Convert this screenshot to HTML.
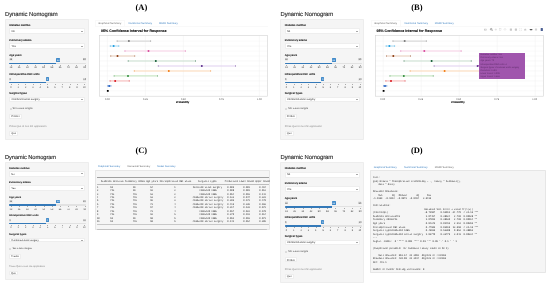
<!DOCTYPE html>
<html><head><meta charset="utf-8"><title>Dynamic Nomogram</title>
<style>
html,body{margin:0;padding:0;background:#fff;}
#root{position:relative;width:550px;height:288px;overflow:hidden;background:#fff;}
.p{position:absolute;width:275px;height:145px;}
.t{position:absolute;white-space:nowrap;text-rendering:geometricPrecision;}
.b{position:absolute;}
</style></head><body>
<div id="root">
<div class="p" style="left:0px;top:0px">
<div class="t" style="left:5.00px;top:13.23px;font-size:5.9px;line-height:5.9px;color:#333;font-weight:normal;font-family:'Liberation Sans', Arial, sans-serif;letter-spacing:-0.070px;-webkit-text-stroke:0.15px #333;">Dynamic Nomogram</div>
<div class="b" style="left:4.90px;top:19.20px;width:83.90px;height:121.10px;background:#f5f5f5;border:0.3px solid #ededed;border-radius:0.8px;box-sizing:border-box;"></div>
<div class="t" style="left:9.20px;top:25.03px;font-size:2.6px;line-height:2.6px;color:#1a1a1a;font-weight:bold;font-family:'Liberation Sans', Arial, sans-serif;-webkit-text-stroke:0.06px #1a1a1a;">Diabetes mellitus</div>
<div class="b" style="left:9.20px;top:28.40px;width:75.70px;height:6.00px;background:#fff;border:0.3px solid #eeeeee;border-radius:0.7px;box-sizing:border-box;"></div>
<div class="t" style="left:11.50px;top:31.14px;font-size:2.6px;line-height:2.6px;color:#222;font-weight:normal;font-family:'Liberation Sans', Arial, sans-serif;">No</div>
<div class="b" style="left:80.5px;top:30.95px;width:0;height:0;border-left:0.7px solid transparent;border-right:0.7px solid transparent;border-top:0.9px solid #555;"></div>
<div class="t" style="left:9.20px;top:39.73px;font-size:2.6px;line-height:2.6px;color:#1a1a1a;font-weight:bold;font-family:'Liberation Sans', Arial, sans-serif;-webkit-text-stroke:0.06px #1a1a1a;">Pulmonary edema</div>
<div class="b" style="left:9.20px;top:43.00px;width:75.70px;height:6.20px;background:#fff;border:0.3px solid #eeeeee;border-radius:0.7px;box-sizing:border-box;"></div>
<div class="t" style="left:11.50px;top:45.84px;font-size:2.6px;line-height:2.6px;color:#222;font-weight:normal;font-family:'Liberation Sans', Arial, sans-serif;">Yes</div>
<div class="b" style="left:80.5px;top:45.65px;width:0;height:0;border-left:0.7px solid transparent;border-right:0.7px solid transparent;border-top:0.9px solid #555;"></div>
<div class="t" style="left:9.20px;top:54.93px;font-size:2.6px;line-height:2.6px;color:#1a1a1a;font-weight:bold;font-family:'Liberation Sans', Arial, sans-serif;-webkit-text-stroke:0.06px #1a1a1a;">Age years</div>
<div class="b" style="left:9.00px;top:58.20px;width:3.70px;height:3.00px;background:#ebebeb;border-radius:0.5px;"></div>
<div class="t" style="left:9.50px;top:59.40px;font-size:2.4px;line-height:2.4px;color:#333;font-weight:normal;font-family:'Liberation Sans', Arial, sans-serif;">18</div>
<div class="b" style="left:82.70px;top:58.20px;width:2.90px;height:3.00px;background:#ebebeb;border-radius:0.5px;"></div>
<div class="t" style="left:83.10px;top:59.40px;font-size:2.4px;line-height:2.4px;color:#333;font-weight:normal;font-family:'Liberation Sans', Arial, sans-serif;">90</div>
<div class="b" style="left:9.00px;top:62.90px;width:77.20px;height:1.40px;background:#e2e2e2;border-radius:0.7px;"></div>
<div class="b" style="left:9.00px;top:62.80px;width:47.10px;height:1.60px;background:#3479b8;border-radius:0.8px 0 0 0.8px;"></div>
<div class="b" style="left:56.10px;top:58.10px;width:4.10px;height:3.60px;background:#428bca;border-radius:0.5px;"></div>
<div class="t" style="left:53.15px;top:59.52px;width:10px;text-align:center;font-size:2.2px;line-height:2.2px;color:#fff;font-weight:normal;font-family:'Liberation Sans', Arial, sans-serif">64</div>
<div class="b" style="left:10.78px;top:64.70px;width:0.24px;height:1.10px;background:#aaa;"></div>
<div class="t" style="left:5.90px;top:67.40px;width:10px;text-align:center;font-size:2.4px;line-height:2.4px;color:#444;font-weight:normal;font-family:'Liberation Sans', Arial, sans-serif">18</div>
<div class="b" style="left:18.98px;top:64.70px;width:0.24px;height:1.10px;background:#aaa;"></div>
<div class="t" style="left:14.10px;top:67.40px;width:10px;text-align:center;font-size:2.4px;line-height:2.4px;color:#444;font-weight:normal;font-family:'Liberation Sans', Arial, sans-serif">26</div>
<div class="b" style="left:27.18px;top:64.70px;width:0.24px;height:1.10px;background:#aaa;"></div>
<div class="t" style="left:22.30px;top:67.40px;width:10px;text-align:center;font-size:2.4px;line-height:2.4px;color:#444;font-weight:normal;font-family:'Liberation Sans', Arial, sans-serif">34</div>
<div class="b" style="left:35.38px;top:64.70px;width:0.24px;height:1.10px;background:#aaa;"></div>
<div class="t" style="left:30.50px;top:67.40px;width:10px;text-align:center;font-size:2.4px;line-height:2.4px;color:#444;font-weight:normal;font-family:'Liberation Sans', Arial, sans-serif">42</div>
<div class="b" style="left:43.58px;top:64.70px;width:0.24px;height:1.10px;background:#aaa;"></div>
<div class="t" style="left:38.70px;top:67.40px;width:10px;text-align:center;font-size:2.4px;line-height:2.4px;color:#444;font-weight:normal;font-family:'Liberation Sans', Arial, sans-serif">50</div>
<div class="b" style="left:51.78px;top:64.70px;width:0.24px;height:1.10px;background:#aaa;"></div>
<div class="t" style="left:46.90px;top:67.40px;width:10px;text-align:center;font-size:2.4px;line-height:2.4px;color:#444;font-weight:normal;font-family:'Liberation Sans', Arial, sans-serif">58</div>
<div class="b" style="left:59.98px;top:64.70px;width:0.24px;height:1.10px;background:#aaa;"></div>
<div class="t" style="left:55.10px;top:67.40px;width:10px;text-align:center;font-size:2.4px;line-height:2.4px;color:#444;font-weight:normal;font-family:'Liberation Sans', Arial, sans-serif">66</div>
<div class="b" style="left:68.18px;top:64.70px;width:0.24px;height:1.10px;background:#aaa;"></div>
<div class="t" style="left:63.30px;top:67.40px;width:10px;text-align:center;font-size:2.4px;line-height:2.4px;color:#444;font-weight:normal;font-family:'Liberation Sans', Arial, sans-serif">74</div>
<div class="b" style="left:76.38px;top:64.70px;width:0.24px;height:1.10px;background:#aaa;"></div>
<div class="t" style="left:71.50px;top:67.40px;width:10px;text-align:center;font-size:2.4px;line-height:2.4px;color:#444;font-weight:normal;font-family:'Liberation Sans', Arial, sans-serif">82</div>
<div class="b" style="left:84.58px;top:64.70px;width:0.24px;height:1.10px;background:#aaa;"></div>
<div class="t" style="left:79.70px;top:67.40px;width:10px;text-align:center;font-size:2.4px;line-height:2.4px;color:#444;font-weight:normal;font-family:'Liberation Sans', Arial, sans-serif">90</div>
<div class="t" style="left:9.20px;top:74.23px;font-size:2.6px;line-height:2.6px;color:#1a1a1a;font-weight:bold;font-family:'Liberation Sans', Arial, sans-serif;-webkit-text-stroke:0.06px #1a1a1a;">Intraoperative RBC units</div>
<div class="b" style="left:9.00px;top:77.50px;width:2.35px;height:3.00px;background:#ebebeb;border-radius:0.5px;"></div>
<div class="t" style="left:9.50px;top:78.70px;font-size:2.4px;line-height:2.4px;color:#333;font-weight:normal;font-family:'Liberation Sans', Arial, sans-serif;">0</div>
<div class="b" style="left:82.90px;top:77.50px;width:2.70px;height:3.00px;background:#ebebeb;border-radius:0.5px;"></div>
<div class="t" style="left:83.30px;top:78.70px;font-size:2.4px;line-height:2.4px;color:#333;font-weight:normal;font-family:'Liberation Sans', Arial, sans-serif;">10</div>
<div class="b" style="left:9.00px;top:82.00px;width:77.20px;height:1.40px;background:#e2e2e2;border-radius:0.7px;"></div>
<div class="b" style="left:9.00px;top:81.90px;width:36.80px;height:1.60px;background:#3479b8;border-radius:0.8px 0 0 0.8px;"></div>
<div class="b" style="left:45.80px;top:77.30px;width:3.10px;height:3.30px;background:#428bca;border-radius:0.5px;"></div>
<div class="t" style="left:42.35px;top:78.57px;width:10px;text-align:center;font-size:2.2px;line-height:2.2px;color:#fff;font-weight:normal;font-family:'Liberation Sans', Arial, sans-serif">5</div>
<div class="b" style="left:10.78px;top:83.80px;width:0.24px;height:1.10px;background:#aaa;"></div>
<div class="t" style="left:5.90px;top:86.50px;width:10px;text-align:center;font-size:2.4px;line-height:2.4px;color:#444;font-weight:normal;font-family:'Liberation Sans', Arial, sans-serif">0</div>
<div class="b" style="left:18.12px;top:83.80px;width:0.24px;height:1.10px;background:#aaa;"></div>
<div class="t" style="left:13.24px;top:86.50px;width:10px;text-align:center;font-size:2.4px;line-height:2.4px;color:#444;font-weight:normal;font-family:'Liberation Sans', Arial, sans-serif">1</div>
<div class="b" style="left:25.46px;top:83.80px;width:0.24px;height:1.10px;background:#aaa;"></div>
<div class="t" style="left:20.58px;top:86.50px;width:10px;text-align:center;font-size:2.4px;line-height:2.4px;color:#444;font-weight:normal;font-family:'Liberation Sans', Arial, sans-serif">2</div>
<div class="b" style="left:32.80px;top:83.80px;width:0.24px;height:1.10px;background:#aaa;"></div>
<div class="t" style="left:27.92px;top:86.50px;width:10px;text-align:center;font-size:2.4px;line-height:2.4px;color:#444;font-weight:normal;font-family:'Liberation Sans', Arial, sans-serif">3</div>
<div class="b" style="left:40.14px;top:83.80px;width:0.24px;height:1.10px;background:#aaa;"></div>
<div class="t" style="left:35.26px;top:86.50px;width:10px;text-align:center;font-size:2.4px;line-height:2.4px;color:#444;font-weight:normal;font-family:'Liberation Sans', Arial, sans-serif">4</div>
<div class="b" style="left:47.48px;top:83.80px;width:0.24px;height:1.10px;background:#aaa;"></div>
<div class="t" style="left:42.60px;top:86.50px;width:10px;text-align:center;font-size:2.4px;line-height:2.4px;color:#444;font-weight:normal;font-family:'Liberation Sans', Arial, sans-serif">5</div>
<div class="b" style="left:54.82px;top:83.80px;width:0.24px;height:1.10px;background:#aaa;"></div>
<div class="t" style="left:49.94px;top:86.50px;width:10px;text-align:center;font-size:2.4px;line-height:2.4px;color:#444;font-weight:normal;font-family:'Liberation Sans', Arial, sans-serif">6</div>
<div class="b" style="left:62.16px;top:83.80px;width:0.24px;height:1.10px;background:#aaa;"></div>
<div class="t" style="left:57.28px;top:86.50px;width:10px;text-align:center;font-size:2.4px;line-height:2.4px;color:#444;font-weight:normal;font-family:'Liberation Sans', Arial, sans-serif">7</div>
<div class="b" style="left:69.50px;top:83.80px;width:0.24px;height:1.10px;background:#aaa;"></div>
<div class="t" style="left:64.62px;top:86.50px;width:10px;text-align:center;font-size:2.4px;line-height:2.4px;color:#444;font-weight:normal;font-family:'Liberation Sans', Arial, sans-serif">8</div>
<div class="b" style="left:76.84px;top:83.80px;width:0.24px;height:1.10px;background:#aaa;"></div>
<div class="t" style="left:71.96px;top:86.50px;width:10px;text-align:center;font-size:2.4px;line-height:2.4px;color:#444;font-weight:normal;font-family:'Liberation Sans', Arial, sans-serif">9</div>
<div class="b" style="left:84.18px;top:83.80px;width:0.24px;height:1.10px;background:#aaa;"></div>
<div class="t" style="left:79.30px;top:86.50px;width:10px;text-align:center;font-size:2.4px;line-height:2.4px;color:#444;font-weight:normal;font-family:'Liberation Sans', Arial, sans-serif">10</div>
<div class="t" style="left:9.20px;top:93.13px;font-size:2.6px;line-height:2.6px;color:#1a1a1a;font-weight:bold;font-family:'Liberation Sans', Arial, sans-serif;-webkit-text-stroke:0.06px #1a1a1a;">Surgical types</div>
<div class="b" style="left:9.20px;top:96.90px;width:75.70px;height:5.10px;background:#fff;border:0.3px solid #eeeeee;border-radius:0.7px;box-sizing:border-box;"></div>
<div class="t" style="left:11.50px;top:99.19px;font-size:2.6px;line-height:2.6px;color:#222;font-weight:normal;font-family:'Liberation Sans', Arial, sans-serif;">Combined aortic surgery</div>
<div class="b" style="left:80.5px;top:99.00px;width:0;height:0;border-left:0.7px solid transparent;border-right:0.7px solid transparent;border-top:0.9px solid #555;"></div>
<div class="b" style="left:9.60px;top:107.60px;width:1.70px;height:1.70px;background:#fff;border:0.3px solid #dcdcdc;border-radius:0.3px;box-sizing:border-box;"></div>
<div class="t" style="left:12.60px;top:108.24px;font-size:2.6px;line-height:2.6px;color:#444;font-weight:normal;font-family:'Liberation Sans', Arial, sans-serif;">Set x-axis ranges</div>
<div class="b" style="left:9.20px;top:114.00px;width:12.50px;height:5.20px;background:#fff;border:0.3px solid #eeeeee;border-radius:0.7px;box-sizing:border-box;"></div>
<div class="t" style="left:11.30px;top:116.34px;font-size:2.6px;line-height:2.6px;color:#333;font-weight:normal;font-family:'Liberation Sans', Arial, sans-serif;">Predict</div>
<div class="t" style="left:9.20px;top:126.24px;font-size:2.6px;line-height:2.6px;color:#888;font-weight:normal;font-family:'Liberation Sans', Arial, sans-serif;">Press Quit to exit the application</div>
<div class="b" style="left:9.20px;top:130.90px;width:9.30px;height:4.90px;background:#fff;border:0.3px solid #eeeeee;border-radius:0.7px;box-sizing:border-box;"></div>
<div class="t" style="left:11.20px;top:133.14px;font-size:2.6px;line-height:2.6px;color:#333;font-weight:normal;font-family:'Liberation Sans', Arial, sans-serif;">Quit</div>
<div class="b" style="left:95.00px;top:26.00px;width:173.00px;height:0.25px;background:#f9f9f9;"></div>
<div class="b" style="left:95.10px;top:20.30px;width:29.60px;height:5.95px;background:#fff;border:0.25px solid #f9f9f9;border-bottom:none;border-radius:0.7px 0.7px 0 0;box-sizing:border-box;"></div>
<div class="t" style="left:98.30px;top:23.04px;font-size:2.6px;line-height:2.6px;color:#666;font-weight:normal;font-family:'Liberation Sans', Arial, sans-serif;">Graphical Summary</div>
<div class="t" style="left:128.60px;top:23.04px;font-size:2.6px;line-height:2.6px;color:#3a7fc0;font-weight:normal;font-family:'Liberation Sans', Arial, sans-serif;">Numerical Summary</div>
<div class="t" style="left:158.90px;top:23.04px;font-size:2.6px;line-height:2.6px;color:#3a7fc0;font-weight:normal;font-family:'Liberation Sans', Arial, sans-serif;">Model Summary</div>
<div class="t" style="left:101.10px;top:30.08px;font-size:3.6px;line-height:3.6px;color:#111;font-weight:bold;font-family:'Liberation Sans', Arial, sans-serif;-webkit-text-stroke:0.1px #111;">95% Confidence Interval for Response</div>
<svg class="b" style="left:0;top:0;overflow:visible" width="275" height="110" viewBox="0 0 275 110">
<line x1="107.4" y1="35.6" x2="107.4" y2="96.2" stroke="#eeeeee" stroke-width="0.4"/>
<line x1="145.4" y1="35.6" x2="145.4" y2="96.2" stroke="#eeeeee" stroke-width="0.4"/>
<line x1="183.4" y1="35.6" x2="183.4" y2="96.2" stroke="#eeeeee" stroke-width="0.4"/>
<line x1="221.4" y1="35.6" x2="221.4" y2="96.2" stroke="#eeeeee" stroke-width="0.4"/>
<line x1="259.4" y1="35.6" x2="259.4" y2="96.2" stroke="#eeeeee" stroke-width="0.4"/>
<line x1="99.6" y1="41.05" x2="267.6" y2="41.05" stroke="#f1f1f1" stroke-width="0.4"/>
<line x1="99.6" y1="46.035" x2="267.6" y2="46.035" stroke="#f1f1f1" stroke-width="0.4"/>
<line x1="99.6" y1="51.019999999999996" x2="267.6" y2="51.019999999999996" stroke="#f1f1f1" stroke-width="0.4"/>
<line x1="99.6" y1="56.004999999999995" x2="267.6" y2="56.004999999999995" stroke="#f1f1f1" stroke-width="0.4"/>
<line x1="99.6" y1="60.989999999999995" x2="267.6" y2="60.989999999999995" stroke="#f1f1f1" stroke-width="0.4"/>
<line x1="99.6" y1="65.975" x2="267.6" y2="65.975" stroke="#f1f1f1" stroke-width="0.4"/>
<line x1="99.6" y1="70.96000000000001" x2="267.6" y2="70.96000000000001" stroke="#f1f1f1" stroke-width="0.4"/>
<line x1="99.6" y1="75.945" x2="267.6" y2="75.945" stroke="#f1f1f1" stroke-width="0.4"/>
<line x1="99.6" y1="80.93" x2="267.6" y2="80.93" stroke="#f1f1f1" stroke-width="0.4"/>
<line x1="99.6" y1="85.91499999999999" x2="267.6" y2="85.91499999999999" stroke="#f1f1f1" stroke-width="0.4"/>
<line x1="99.6" y1="90.9" x2="267.6" y2="90.9" stroke="#f1f1f1" stroke-width="0.4"/>
<rect x="99.6" y="35.6" width="168.00000000000003" height="60.6" fill="none" stroke="#d3d3d3" stroke-width="0.6"/>
<line x1="117.1" y1="41.05" x2="150.6" y2="41.05" stroke="#dadada" stroke-width="1.15"/>
<rect x="116.6" y="40.4" width="1" height="1.3" fill="#777777" opacity="0.55"/>
<rect x="150.1" y="40.4" width="1" height="1.3" fill="#777777" opacity="0.55"/>
<circle cx="128.9" cy="41.05" r="1.0" fill="#777777"/>
<line x1="110.3" y1="46.035" x2="118.8" y2="46.035" stroke="#b3def4" stroke-width="1.15"/>
<rect x="109.8" y="45.385" width="1" height="1.3" fill="#1a9de0" opacity="0.55"/>
<rect x="118.3" y="45.385" width="1" height="1.3" fill="#1a9de0" opacity="0.55"/>
<circle cx="113.6" cy="46.035" r="1.0" fill="#1a9de0"/>
<line x1="124.9" y1="51.019999999999996" x2="185.4" y2="51.019999999999996" stroke="#f7d0e6" stroke-width="1.15"/>
<rect x="124.4" y="50.37" width="1" height="1.3" fill="#d6479a" opacity="0.55"/>
<rect x="184.9" y="50.37" width="1" height="1.3" fill="#d6479a" opacity="0.55"/>
<circle cx="148.5" cy="51.019999999999996" r="1.0" fill="#d6479a"/>
<line x1="110.7" y1="56.004999999999995" x2="134.7" y2="56.004999999999995" stroke="#ebd3c2" stroke-width="1.15"/>
<rect x="110.2" y="55.355" width="1" height="1.3" fill="#8b3d12" opacity="0.55"/>
<rect x="134.2" y="55.355" width="1" height="1.3" fill="#8b3d12" opacity="0.55"/>
<circle cx="117.5" cy="56.004999999999995" r="1.0" fill="#8b3d12"/>
<line x1="128.2" y1="60.989999999999995" x2="195.5" y2="60.989999999999995" stroke="#c9dfd0" stroke-width="1.15"/>
<rect x="127.69999999999999" y="60.339999999999996" width="1" height="1.3" fill="#0f5a32" opacity="0.55"/>
<rect x="195.0" y="60.339999999999996" width="1" height="1.3" fill="#0f5a32" opacity="0.55"/>
<circle cx="155.8" cy="60.989999999999995" r="1.0" fill="#0f5a32"/>
<line x1="158.3" y1="65.975" x2="235.5" y2="65.975" stroke="#e2d1f1" stroke-width="1.15"/>
<rect x="157.8" y="65.32499999999999" width="1" height="1.3" fill="#5b2d8a" opacity="0.55"/>
<rect x="235.0" y="65.32499999999999" width="1" height="1.3" fill="#5b2d8a" opacity="0.55"/>
<circle cx="201.8" cy="65.975" r="1.0" fill="#5b2d8a"/>
<line x1="134.3" y1="70.96000000000001" x2="210.6" y2="70.96000000000001" stroke="#fdd9b8" stroke-width="1.15"/>
<rect x="133.8" y="70.31" width="1" height="1.3" fill="#f27a10" opacity="0.55"/>
<rect x="210.1" y="70.31" width="1" height="1.3" fill="#f27a10" opacity="0.55"/>
<circle cx="168.8" cy="70.96000000000001" r="1.0" fill="#f27a10"/>
<line x1="114.1" y1="75.945" x2="157.5" y2="75.945" stroke="#cce8c8" stroke-width="1.15"/>
<rect x="113.6" y="75.29499999999999" width="1" height="1.3" fill="#2e8b3a" opacity="0.55"/>
<rect x="157.0" y="75.29499999999999" width="1" height="1.3" fill="#2e8b3a" opacity="0.55"/>
<circle cx="128.0" cy="75.945" r="1.0" fill="#2e8b3a"/>
<line x1="110.0" y1="80.93" x2="129.3" y2="80.93" stroke="#f7bebe" stroke-width="1.15"/>
<rect x="109.5" y="80.28" width="1" height="1.3" fill="#d8141c" opacity="0.55"/>
<rect x="128.8" y="80.28" width="1" height="1.3" fill="#d8141c" opacity="0.55"/>
<circle cx="115.2" cy="80.93" r="1.0" fill="#d8141c"/>
<line x1="107.7" y1="85.91499999999999" x2="111.0" y2="85.91499999999999" stroke="#b1c9ec" stroke-width="1.15"/>
<rect x="107.2" y="85.26499999999999" width="1" height="1.3" fill="#1f5cc0" opacity="0.55"/>
<rect x="110.5" y="85.26499999999999" width="1" height="1.3" fill="#1f5cc0" opacity="0.55"/>
<circle cx="109.2" cy="85.91499999999999" r="1.0" fill="#1f5cc0"/>
<rect x="106.89999999999999" y="90.0" width="1.8" height="1.8" fill="#000"/>
</svg>
<div class="t" style="left:102.40px;top:98.70px;width:10px;text-align:center;font-size:2.4px;line-height:2.4px;color:#555;font-weight:normal;font-family:'Liberation Sans', Arial, sans-serif">0.00</div>
<div class="t" style="left:140.40px;top:98.70px;width:10px;text-align:center;font-size:2.4px;line-height:2.4px;color:#555;font-weight:normal;font-family:'Liberation Sans', Arial, sans-serif">0.25</div>
<div class="t" style="left:178.40px;top:98.70px;width:10px;text-align:center;font-size:2.4px;line-height:2.4px;color:#555;font-weight:normal;font-family:'Liberation Sans', Arial, sans-serif">0.50</div>
<div class="t" style="left:216.40px;top:98.70px;width:10px;text-align:center;font-size:2.4px;line-height:2.4px;color:#555;font-weight:normal;font-family:'Liberation Sans', Arial, sans-serif">0.75</div>
<div class="t" style="left:254.40px;top:98.70px;width:10px;text-align:center;font-size:2.4px;line-height:2.4px;color:#555;font-weight:normal;font-family:'Liberation Sans', Arial, sans-serif">1.00</div>
<div class="t" style="left:175.90px;top:102.13px;font-size:2.6px;line-height:2.6px;color:#111;font-weight:bold;font-family:'Liberation Sans', Arial, sans-serif;-webkit-text-stroke:0.1px #111;">Probability</div>
</div>
<div class="p" style="left:275.5px;top:0px">
<div class="t" style="left:5.00px;top:13.23px;font-size:5.9px;line-height:5.9px;color:#333;font-weight:normal;font-family:'Liberation Sans', Arial, sans-serif;letter-spacing:-0.070px;-webkit-text-stroke:0.15px #333;">Dynamic Nomogram</div>
<div class="b" style="left:4.90px;top:19.20px;width:83.90px;height:121.10px;background:#f5f5f5;border:0.3px solid #ededed;border-radius:0.8px;box-sizing:border-box;"></div>
<div class="t" style="left:9.20px;top:25.03px;font-size:2.6px;line-height:2.6px;color:#1a1a1a;font-weight:bold;font-family:'Liberation Sans', Arial, sans-serif;-webkit-text-stroke:0.06px #1a1a1a;">Diabetes mellitus</div>
<div class="b" style="left:9.20px;top:28.40px;width:75.70px;height:6.00px;background:#fff;border:0.3px solid #eeeeee;border-radius:0.7px;box-sizing:border-box;"></div>
<div class="t" style="left:11.50px;top:31.14px;font-size:2.6px;line-height:2.6px;color:#222;font-weight:normal;font-family:'Liberation Sans', Arial, sans-serif;">No</div>
<div class="b" style="left:80.5px;top:30.95px;width:0;height:0;border-left:0.7px solid transparent;border-right:0.7px solid transparent;border-top:0.9px solid #555;"></div>
<div class="t" style="left:9.20px;top:39.73px;font-size:2.6px;line-height:2.6px;color:#1a1a1a;font-weight:bold;font-family:'Liberation Sans', Arial, sans-serif;-webkit-text-stroke:0.06px #1a1a1a;">Pulmonary edema</div>
<div class="b" style="left:9.20px;top:43.00px;width:75.70px;height:6.20px;background:#fff;border:0.3px solid #eeeeee;border-radius:0.7px;box-sizing:border-box;"></div>
<div class="t" style="left:11.50px;top:45.84px;font-size:2.6px;line-height:2.6px;color:#222;font-weight:normal;font-family:'Liberation Sans', Arial, sans-serif;">Yes</div>
<div class="b" style="left:80.5px;top:45.65px;width:0;height:0;border-left:0.7px solid transparent;border-right:0.7px solid transparent;border-top:0.9px solid #555;"></div>
<div class="t" style="left:9.20px;top:54.93px;font-size:2.6px;line-height:2.6px;color:#1a1a1a;font-weight:bold;font-family:'Liberation Sans', Arial, sans-serif;-webkit-text-stroke:0.06px #1a1a1a;">Age years</div>
<div class="b" style="left:9.00px;top:58.20px;width:3.70px;height:3.00px;background:#ebebeb;border-radius:0.5px;"></div>
<div class="t" style="left:9.50px;top:59.40px;font-size:2.4px;line-height:2.4px;color:#333;font-weight:normal;font-family:'Liberation Sans', Arial, sans-serif;">18</div>
<div class="b" style="left:82.70px;top:58.20px;width:2.90px;height:3.00px;background:#ebebeb;border-radius:0.5px;"></div>
<div class="t" style="left:83.10px;top:59.40px;font-size:2.4px;line-height:2.4px;color:#333;font-weight:normal;font-family:'Liberation Sans', Arial, sans-serif;">90</div>
<div class="b" style="left:9.00px;top:62.90px;width:77.20px;height:1.40px;background:#e2e2e2;border-radius:0.7px;"></div>
<div class="b" style="left:9.00px;top:62.80px;width:47.10px;height:1.60px;background:#3479b8;border-radius:0.8px 0 0 0.8px;"></div>
<div class="b" style="left:56.10px;top:58.10px;width:4.10px;height:3.60px;background:#428bca;border-radius:0.5px;"></div>
<div class="t" style="left:53.15px;top:59.52px;width:10px;text-align:center;font-size:2.2px;line-height:2.2px;color:#fff;font-weight:normal;font-family:'Liberation Sans', Arial, sans-serif">64</div>
<div class="b" style="left:10.78px;top:64.70px;width:0.24px;height:1.10px;background:#aaa;"></div>
<div class="t" style="left:5.90px;top:67.40px;width:10px;text-align:center;font-size:2.4px;line-height:2.4px;color:#444;font-weight:normal;font-family:'Liberation Sans', Arial, sans-serif">18</div>
<div class="b" style="left:18.98px;top:64.70px;width:0.24px;height:1.10px;background:#aaa;"></div>
<div class="t" style="left:14.10px;top:67.40px;width:10px;text-align:center;font-size:2.4px;line-height:2.4px;color:#444;font-weight:normal;font-family:'Liberation Sans', Arial, sans-serif">26</div>
<div class="b" style="left:27.18px;top:64.70px;width:0.24px;height:1.10px;background:#aaa;"></div>
<div class="t" style="left:22.30px;top:67.40px;width:10px;text-align:center;font-size:2.4px;line-height:2.4px;color:#444;font-weight:normal;font-family:'Liberation Sans', Arial, sans-serif">34</div>
<div class="b" style="left:35.38px;top:64.70px;width:0.24px;height:1.10px;background:#aaa;"></div>
<div class="t" style="left:30.50px;top:67.40px;width:10px;text-align:center;font-size:2.4px;line-height:2.4px;color:#444;font-weight:normal;font-family:'Liberation Sans', Arial, sans-serif">42</div>
<div class="b" style="left:43.58px;top:64.70px;width:0.24px;height:1.10px;background:#aaa;"></div>
<div class="t" style="left:38.70px;top:67.40px;width:10px;text-align:center;font-size:2.4px;line-height:2.4px;color:#444;font-weight:normal;font-family:'Liberation Sans', Arial, sans-serif">50</div>
<div class="b" style="left:51.78px;top:64.70px;width:0.24px;height:1.10px;background:#aaa;"></div>
<div class="t" style="left:46.90px;top:67.40px;width:10px;text-align:center;font-size:2.4px;line-height:2.4px;color:#444;font-weight:normal;font-family:'Liberation Sans', Arial, sans-serif">58</div>
<div class="b" style="left:59.98px;top:64.70px;width:0.24px;height:1.10px;background:#aaa;"></div>
<div class="t" style="left:55.10px;top:67.40px;width:10px;text-align:center;font-size:2.4px;line-height:2.4px;color:#444;font-weight:normal;font-family:'Liberation Sans', Arial, sans-serif">66</div>
<div class="b" style="left:68.18px;top:64.70px;width:0.24px;height:1.10px;background:#aaa;"></div>
<div class="t" style="left:63.30px;top:67.40px;width:10px;text-align:center;font-size:2.4px;line-height:2.4px;color:#444;font-weight:normal;font-family:'Liberation Sans', Arial, sans-serif">74</div>
<div class="b" style="left:76.38px;top:64.70px;width:0.24px;height:1.10px;background:#aaa;"></div>
<div class="t" style="left:71.50px;top:67.40px;width:10px;text-align:center;font-size:2.4px;line-height:2.4px;color:#444;font-weight:normal;font-family:'Liberation Sans', Arial, sans-serif">82</div>
<div class="b" style="left:84.58px;top:64.70px;width:0.24px;height:1.10px;background:#aaa;"></div>
<div class="t" style="left:79.70px;top:67.40px;width:10px;text-align:center;font-size:2.4px;line-height:2.4px;color:#444;font-weight:normal;font-family:'Liberation Sans', Arial, sans-serif">90</div>
<div class="t" style="left:9.20px;top:74.23px;font-size:2.6px;line-height:2.6px;color:#1a1a1a;font-weight:bold;font-family:'Liberation Sans', Arial, sans-serif;-webkit-text-stroke:0.06px #1a1a1a;">Intraoperative RBC units</div>
<div class="b" style="left:9.00px;top:77.50px;width:2.35px;height:3.00px;background:#ebebeb;border-radius:0.5px;"></div>
<div class="t" style="left:9.50px;top:78.70px;font-size:2.4px;line-height:2.4px;color:#333;font-weight:normal;font-family:'Liberation Sans', Arial, sans-serif;">0</div>
<div class="b" style="left:82.90px;top:77.50px;width:2.70px;height:3.00px;background:#ebebeb;border-radius:0.5px;"></div>
<div class="t" style="left:83.30px;top:78.70px;font-size:2.4px;line-height:2.4px;color:#333;font-weight:normal;font-family:'Liberation Sans', Arial, sans-serif;">10</div>
<div class="b" style="left:9.00px;top:82.00px;width:77.20px;height:1.40px;background:#e2e2e2;border-radius:0.7px;"></div>
<div class="b" style="left:9.00px;top:81.90px;width:36.80px;height:1.60px;background:#3479b8;border-radius:0.8px 0 0 0.8px;"></div>
<div class="b" style="left:45.80px;top:77.30px;width:3.10px;height:3.30px;background:#428bca;border-radius:0.5px;"></div>
<div class="t" style="left:42.35px;top:78.57px;width:10px;text-align:center;font-size:2.2px;line-height:2.2px;color:#fff;font-weight:normal;font-family:'Liberation Sans', Arial, sans-serif">5</div>
<div class="b" style="left:10.78px;top:83.80px;width:0.24px;height:1.10px;background:#aaa;"></div>
<div class="t" style="left:5.90px;top:86.50px;width:10px;text-align:center;font-size:2.4px;line-height:2.4px;color:#444;font-weight:normal;font-family:'Liberation Sans', Arial, sans-serif">0</div>
<div class="b" style="left:18.12px;top:83.80px;width:0.24px;height:1.10px;background:#aaa;"></div>
<div class="t" style="left:13.24px;top:86.50px;width:10px;text-align:center;font-size:2.4px;line-height:2.4px;color:#444;font-weight:normal;font-family:'Liberation Sans', Arial, sans-serif">1</div>
<div class="b" style="left:25.46px;top:83.80px;width:0.24px;height:1.10px;background:#aaa;"></div>
<div class="t" style="left:20.58px;top:86.50px;width:10px;text-align:center;font-size:2.4px;line-height:2.4px;color:#444;font-weight:normal;font-family:'Liberation Sans', Arial, sans-serif">2</div>
<div class="b" style="left:32.80px;top:83.80px;width:0.24px;height:1.10px;background:#aaa;"></div>
<div class="t" style="left:27.92px;top:86.50px;width:10px;text-align:center;font-size:2.4px;line-height:2.4px;color:#444;font-weight:normal;font-family:'Liberation Sans', Arial, sans-serif">3</div>
<div class="b" style="left:40.14px;top:83.80px;width:0.24px;height:1.10px;background:#aaa;"></div>
<div class="t" style="left:35.26px;top:86.50px;width:10px;text-align:center;font-size:2.4px;line-height:2.4px;color:#444;font-weight:normal;font-family:'Liberation Sans', Arial, sans-serif">4</div>
<div class="b" style="left:47.48px;top:83.80px;width:0.24px;height:1.10px;background:#aaa;"></div>
<div class="t" style="left:42.60px;top:86.50px;width:10px;text-align:center;font-size:2.4px;line-height:2.4px;color:#444;font-weight:normal;font-family:'Liberation Sans', Arial, sans-serif">5</div>
<div class="b" style="left:54.82px;top:83.80px;width:0.24px;height:1.10px;background:#aaa;"></div>
<div class="t" style="left:49.94px;top:86.50px;width:10px;text-align:center;font-size:2.4px;line-height:2.4px;color:#444;font-weight:normal;font-family:'Liberation Sans', Arial, sans-serif">6</div>
<div class="b" style="left:62.16px;top:83.80px;width:0.24px;height:1.10px;background:#aaa;"></div>
<div class="t" style="left:57.28px;top:86.50px;width:10px;text-align:center;font-size:2.4px;line-height:2.4px;color:#444;font-weight:normal;font-family:'Liberation Sans', Arial, sans-serif">7</div>
<div class="b" style="left:69.50px;top:83.80px;width:0.24px;height:1.10px;background:#aaa;"></div>
<div class="t" style="left:64.62px;top:86.50px;width:10px;text-align:center;font-size:2.4px;line-height:2.4px;color:#444;font-weight:normal;font-family:'Liberation Sans', Arial, sans-serif">8</div>
<div class="b" style="left:76.84px;top:83.80px;width:0.24px;height:1.10px;background:#aaa;"></div>
<div class="t" style="left:71.96px;top:86.50px;width:10px;text-align:center;font-size:2.4px;line-height:2.4px;color:#444;font-weight:normal;font-family:'Liberation Sans', Arial, sans-serif">9</div>
<div class="b" style="left:84.18px;top:83.80px;width:0.24px;height:1.10px;background:#aaa;"></div>
<div class="t" style="left:79.30px;top:86.50px;width:10px;text-align:center;font-size:2.4px;line-height:2.4px;color:#444;font-weight:normal;font-family:'Liberation Sans', Arial, sans-serif">10</div>
<div class="t" style="left:9.20px;top:93.13px;font-size:2.6px;line-height:2.6px;color:#1a1a1a;font-weight:bold;font-family:'Liberation Sans', Arial, sans-serif;-webkit-text-stroke:0.06px #1a1a1a;">Surgical types</div>
<div class="b" style="left:9.20px;top:96.90px;width:75.70px;height:5.10px;background:#fff;border:0.3px solid #eeeeee;border-radius:0.7px;box-sizing:border-box;"></div>
<div class="t" style="left:11.50px;top:99.19px;font-size:2.6px;line-height:2.6px;color:#222;font-weight:normal;font-family:'Liberation Sans', Arial, sans-serif;">Combined aortic surgery</div>
<div class="b" style="left:80.5px;top:99.00px;width:0;height:0;border-left:0.7px solid transparent;border-right:0.7px solid transparent;border-top:0.9px solid #555;"></div>
<div class="b" style="left:9.60px;top:107.60px;width:1.70px;height:1.70px;background:#fff;border:0.3px solid #dcdcdc;border-radius:0.3px;box-sizing:border-box;"></div>
<div class="t" style="left:12.60px;top:108.24px;font-size:2.6px;line-height:2.6px;color:#444;font-weight:normal;font-family:'Liberation Sans', Arial, sans-serif;">Set x-axis ranges</div>
<div class="b" style="left:9.20px;top:114.00px;width:12.50px;height:5.20px;background:#fff;border:0.3px solid #eeeeee;border-radius:0.7px;box-sizing:border-box;"></div>
<div class="t" style="left:11.30px;top:116.34px;font-size:2.6px;line-height:2.6px;color:#333;font-weight:normal;font-family:'Liberation Sans', Arial, sans-serif;">Predict</div>
<div class="t" style="left:9.20px;top:126.24px;font-size:2.6px;line-height:2.6px;color:#888;font-weight:normal;font-family:'Liberation Sans', Arial, sans-serif;">Press Quit to exit the application</div>
<div class="b" style="left:9.20px;top:130.90px;width:9.30px;height:4.90px;background:#fff;border:0.3px solid #eeeeee;border-radius:0.7px;box-sizing:border-box;"></div>
<div class="t" style="left:11.20px;top:133.14px;font-size:2.6px;line-height:2.6px;color:#333;font-weight:normal;font-family:'Liberation Sans', Arial, sans-serif;">Quit</div>
<div class="b" style="left:95.00px;top:26.00px;width:172.00px;height:0.25px;background:#f9f9f9;"></div>
<div class="b" style="left:95.50px;top:20.30px;width:29.60px;height:5.95px;background:#fff;border:0.25px solid #f9f9f9;border-bottom:none;border-radius:0.7px 0.7px 0 0;box-sizing:border-box;"></div>
<div class="t" style="left:98.70px;top:23.04px;font-size:2.6px;line-height:2.6px;color:#666;font-weight:normal;font-family:'Liberation Sans', Arial, sans-serif;">Graphical Summary</div>
<div class="t" style="left:129.00px;top:23.04px;font-size:2.6px;line-height:2.6px;color:#3a7fc0;font-weight:normal;font-family:'Liberation Sans', Arial, sans-serif;">Numerical Summary</div>
<div class="t" style="left:159.30px;top:23.04px;font-size:2.6px;line-height:2.6px;color:#3a7fc0;font-weight:normal;font-family:'Liberation Sans', Arial, sans-serif;">Model Summary</div>
<div class="t" style="left:100.90px;top:30.08px;font-size:3.6px;line-height:3.6px;color:#111;font-weight:bold;font-family:'Liberation Sans', Arial, sans-serif;-webkit-text-stroke:0.1px #111;">95% Confidence Interval for Response</div>
<svg class="b" style="left:0;top:0;overflow:visible" width="275" height="110" viewBox="0 0 275 110">
<line x1="107.2" y1="35.6" x2="107.2" y2="96.2" stroke="#eeeeee" stroke-width="0.4"/>
<line x1="145.20000000000002" y1="35.6" x2="145.20000000000002" y2="96.2" stroke="#eeeeee" stroke-width="0.4"/>
<line x1="183.20000000000002" y1="35.6" x2="183.20000000000002" y2="96.2" stroke="#eeeeee" stroke-width="0.4"/>
<line x1="221.20000000000002" y1="35.6" x2="221.20000000000002" y2="96.2" stroke="#eeeeee" stroke-width="0.4"/>
<line x1="259.2" y1="35.6" x2="259.2" y2="96.2" stroke="#eeeeee" stroke-width="0.4"/>
<line x1="99.39999999999999" y1="41.05" x2="267.40000000000003" y2="41.05" stroke="#f1f1f1" stroke-width="0.4"/>
<line x1="99.39999999999999" y1="46.035" x2="267.40000000000003" y2="46.035" stroke="#f1f1f1" stroke-width="0.4"/>
<line x1="99.39999999999999" y1="51.019999999999996" x2="267.40000000000003" y2="51.019999999999996" stroke="#f1f1f1" stroke-width="0.4"/>
<line x1="99.39999999999999" y1="56.004999999999995" x2="267.40000000000003" y2="56.004999999999995" stroke="#f1f1f1" stroke-width="0.4"/>
<line x1="99.39999999999999" y1="60.989999999999995" x2="267.40000000000003" y2="60.989999999999995" stroke="#f1f1f1" stroke-width="0.4"/>
<line x1="99.39999999999999" y1="65.975" x2="267.40000000000003" y2="65.975" stroke="#f1f1f1" stroke-width="0.4"/>
<line x1="99.39999999999999" y1="70.96000000000001" x2="267.40000000000003" y2="70.96000000000001" stroke="#f1f1f1" stroke-width="0.4"/>
<line x1="99.39999999999999" y1="75.945" x2="267.40000000000003" y2="75.945" stroke="#f1f1f1" stroke-width="0.4"/>
<line x1="99.39999999999999" y1="80.93" x2="267.40000000000003" y2="80.93" stroke="#f1f1f1" stroke-width="0.4"/>
<line x1="99.39999999999999" y1="85.91499999999999" x2="267.40000000000003" y2="85.91499999999999" stroke="#f1f1f1" stroke-width="0.4"/>
<line x1="99.39999999999999" y1="90.9" x2="267.40000000000003" y2="90.9" stroke="#f1f1f1" stroke-width="0.4"/>
<rect x="99.39999999999999" y="35.6" width="168.00000000000006" height="60.6" fill="none" stroke="#d3d3d3" stroke-width="0.6"/>
<line x1="116.89999999999999" y1="41.05" x2="150.4" y2="41.05" stroke="#dadada" stroke-width="1.15"/>
<rect x="116.39999999999999" y="40.4" width="1" height="1.3" fill="#777777" opacity="0.55"/>
<rect x="149.9" y="40.4" width="1" height="1.3" fill="#777777" opacity="0.55"/>
<circle cx="128.70000000000002" cy="41.05" r="1.0" fill="#777777"/>
<line x1="110.1" y1="46.035" x2="118.6" y2="46.035" stroke="#b3def4" stroke-width="1.15"/>
<rect x="109.6" y="45.385" width="1" height="1.3" fill="#1a9de0" opacity="0.55"/>
<rect x="118.1" y="45.385" width="1" height="1.3" fill="#1a9de0" opacity="0.55"/>
<circle cx="113.39999999999999" cy="46.035" r="1.0" fill="#1a9de0"/>
<line x1="124.7" y1="51.019999999999996" x2="185.20000000000002" y2="51.019999999999996" stroke="#f7d0e6" stroke-width="1.15"/>
<rect x="124.2" y="50.37" width="1" height="1.3" fill="#d6479a" opacity="0.55"/>
<rect x="184.70000000000002" y="50.37" width="1" height="1.3" fill="#d6479a" opacity="0.55"/>
<circle cx="148.3" cy="51.019999999999996" r="1.0" fill="#d6479a"/>
<line x1="110.5" y1="56.004999999999995" x2="134.5" y2="56.004999999999995" stroke="#ebd3c2" stroke-width="1.15"/>
<rect x="110.0" y="55.355" width="1" height="1.3" fill="#8b3d12" opacity="0.55"/>
<rect x="134.0" y="55.355" width="1" height="1.3" fill="#8b3d12" opacity="0.55"/>
<circle cx="117.3" cy="56.004999999999995" r="1.0" fill="#8b3d12"/>
<line x1="127.99999999999999" y1="60.989999999999995" x2="195.3" y2="60.989999999999995" stroke="#c9dfd0" stroke-width="1.15"/>
<rect x="127.49999999999999" y="60.339999999999996" width="1" height="1.3" fill="#0f5a32" opacity="0.55"/>
<rect x="194.8" y="60.339999999999996" width="1" height="1.3" fill="#0f5a32" opacity="0.55"/>
<circle cx="155.60000000000002" cy="60.989999999999995" r="1.0" fill="#0f5a32"/>
<line x1="158.10000000000002" y1="65.975" x2="235.3" y2="65.975" stroke="#e2d1f1" stroke-width="1.15"/>
<rect x="157.60000000000002" y="65.32499999999999" width="1" height="1.3" fill="#5b2d8a" opacity="0.55"/>
<rect x="234.8" y="65.32499999999999" width="1" height="1.3" fill="#5b2d8a" opacity="0.55"/>
<circle cx="201.60000000000002" cy="65.975" r="1.0" fill="#5b2d8a"/>
<line x1="134.10000000000002" y1="70.96000000000001" x2="210.4" y2="70.96000000000001" stroke="#fdd9b8" stroke-width="1.15"/>
<rect x="133.60000000000002" y="70.31" width="1" height="1.3" fill="#f27a10" opacity="0.55"/>
<rect x="209.9" y="70.31" width="1" height="1.3" fill="#f27a10" opacity="0.55"/>
<circle cx="168.60000000000002" cy="70.96000000000001" r="1.0" fill="#f27a10"/>
<line x1="113.89999999999999" y1="75.945" x2="157.3" y2="75.945" stroke="#cce8c8" stroke-width="1.15"/>
<rect x="113.39999999999999" y="75.29499999999999" width="1" height="1.3" fill="#2e8b3a" opacity="0.55"/>
<rect x="156.8" y="75.29499999999999" width="1" height="1.3" fill="#2e8b3a" opacity="0.55"/>
<circle cx="127.8" cy="75.945" r="1.0" fill="#2e8b3a"/>
<line x1="109.8" y1="80.93" x2="129.10000000000002" y2="80.93" stroke="#f7bebe" stroke-width="1.15"/>
<rect x="109.3" y="80.28" width="1" height="1.3" fill="#d8141c" opacity="0.55"/>
<rect x="128.60000000000002" y="80.28" width="1" height="1.3" fill="#d8141c" opacity="0.55"/>
<circle cx="115.0" cy="80.93" r="1.0" fill="#d8141c"/>
<line x1="107.5" y1="85.91499999999999" x2="110.8" y2="85.91499999999999" stroke="#b1c9ec" stroke-width="1.15"/>
<rect x="107.0" y="85.26499999999999" width="1" height="1.3" fill="#1f5cc0" opacity="0.55"/>
<rect x="110.3" y="85.26499999999999" width="1" height="1.3" fill="#1f5cc0" opacity="0.55"/>
<circle cx="109.0" cy="85.91499999999999" r="1.0" fill="#1f5cc0"/>
<rect x="106.69999999999999" y="90.0" width="1.8" height="1.8" fill="#000"/>
</svg>
<div class="t" style="left:102.20px;top:98.70px;width:10px;text-align:center;font-size:2.4px;line-height:2.4px;color:#555;font-weight:normal;font-family:'Liberation Sans', Arial, sans-serif">0.00</div>
<div class="t" style="left:140.20px;top:98.70px;width:10px;text-align:center;font-size:2.4px;line-height:2.4px;color:#555;font-weight:normal;font-family:'Liberation Sans', Arial, sans-serif">0.25</div>
<div class="t" style="left:178.20px;top:98.70px;width:10px;text-align:center;font-size:2.4px;line-height:2.4px;color:#555;font-weight:normal;font-family:'Liberation Sans', Arial, sans-serif">0.50</div>
<div class="t" style="left:216.20px;top:98.70px;width:10px;text-align:center;font-size:2.4px;line-height:2.4px;color:#555;font-weight:normal;font-family:'Liberation Sans', Arial, sans-serif">0.75</div>
<div class="t" style="left:254.20px;top:98.70px;width:10px;text-align:center;font-size:2.4px;line-height:2.4px;color:#555;font-weight:normal;font-family:'Liberation Sans', Arial, sans-serif">1.00</div>
<div class="t" style="left:175.70px;top:102.13px;font-size:2.6px;line-height:2.6px;color:#111;font-weight:bold;font-family:'Liberation Sans', Arial, sans-serif;-webkit-text-stroke:0.1px #111;">Probability</div>
<svg class="b" style="left:0;top:0;overflow:visible" width="275" height="40"><rect x="208.0" y="28.75" width="2.6" height="1.7" rx="0.3" fill="#c8c8c8"/><circle cx="209.3" cy="29.6" r="0.5" fill="#eeeeee"/><circle cx="215.2" cy="29.25" r="0.85" fill="none" stroke="#6c6c6c" stroke-width="0.55"/><line x1="215.8" y1="29.85" x2="216.6" y2="30.650000000000002" stroke="#6c6c6c" stroke-width="0.6"/><path d="M218.7 29.55 H220.9 M219.8 28.45 V30.650000000000002" stroke="#d0d0d0" stroke-width="0.45"/><rect x="223.2" y="28.650000000000002" width="1.8" height="1.8" fill="none" stroke="#d0d0d0" stroke-width="0.35"/><ellipse cx="229.0" cy="29.35" rx="1.1" ry="0.7" fill="none" stroke="#d4d4d4" stroke-width="0.4"/><rect x="233.8" y="28.45" width="2.2" height="2.2" rx="0.3" fill="#c9c9c9"/><rect x="238.8" y="28.45" width="2.2" height="2.2" rx="0.3" fill="#c9c9c9"/><path d="M243.5 29.25 V28.55 H244.2 M244.8 28.55 H245.5 V29.25 M245.5 29.85 V30.55 H244.8 M244.2 30.55 H243.5 V29.85" stroke="#d6d6d6" stroke-width="0.4" fill="none"/><path d="M248.1 29.55 L249.2 28.45 L250.3 29.55 V30.55 H248.1 Z" fill="#cbcbcb"/><rect x="253.7" y="28.95" width="2.7" height="1.2" rx="0.4" fill="#585858"/><rect x="258.9" y="28.55" width="2.2" height="2.0" rx="0.3" fill="#d2d2d2"/><rect x="264.7" y="28.1" width="2.2" height="2.9" rx="0.5" fill="#4b5f93"/></svg>
<div class="b" style="left:201.70px;top:64.90px;width:2.20px;height:1.60px;background:#a055ae;clip-path:polygon(0 50%,100% 0,100% 100%);"></div>
<div class="b" style="left:203.70px;top:52.50px;width:45.50px;height:26.40px;background:#a055ad;"></div>
<div class="t" style="left:204.90px;top:53.52px;font-size:2.2px;line-height:2.2px;color:#5e2c6a;font-weight:normal;font-family:'Liberation Sans', Arial, sans-serif;">Diabetes mellitus: Yes</div>
<div class="t" style="left:204.90px;top:57.02px;font-size:2.2px;line-height:2.2px;color:#5e2c6a;font-weight:normal;font-family:'Liberation Sans', Arial, sans-serif;">Pulmonary edema: Yes</div>
<div class="t" style="left:204.90px;top:60.32px;font-size:2.2px;line-height:2.2px;color:#5e2c6a;font-weight:normal;font-family:'Liberation Sans', Arial, sans-serif;">Age years: 73</div>
<div class="t" style="left:204.90px;top:63.62px;font-size:2.2px;line-height:2.2px;color:#5e2c6a;font-weight:normal;font-family:'Liberation Sans', Arial, sans-serif;">Intraoperative RBC units: 4</div>
<div class="t" style="left:204.90px;top:66.82px;font-size:2.2px;line-height:2.2px;color:#5e2c6a;font-weight:normal;font-family:'Liberation Sans', Arial, sans-serif;">Surgical types: Combined aortic surgery</div>
<div class="t" style="left:204.90px;top:70.02px;font-size:2.2px;line-height:2.2px;color:#5e2c6a;font-weight:normal;font-family:'Liberation Sans', Arial, sans-serif;">Prediction: 0.415</div>
<div class="t" style="left:204.90px;top:73.12px;font-size:2.2px;line-height:2.2px;color:#5e2c6a;font-weight:normal;font-family:'Liberation Sans', Arial, sans-serif;">Lower bound: 0.335</div>
<div class="t" style="left:204.90px;top:76.32px;font-size:2.2px;line-height:2.2px;color:#5e2c6a;font-weight:normal;font-family:'Liberation Sans', Arial, sans-serif;">Upper bound: 0.666</div>
</div>
<div class="p" style="left:0px;top:143.0px">
<div class="t" style="left:5.00px;top:13.11px;font-size:5.73px;line-height:5.73px;color:#333;font-weight:normal;font-family:'Liberation Sans', Arial, sans-serif;letter-spacing:-0.068px;-webkit-text-stroke:0.15px #333;">Dynamic Nomogram</div>
<div class="b" style="left:4.90px;top:19.00px;width:83.90px;height:117.71px;background:#f5f5f5;border:0.3px solid #ededed;border-radius:0.8px;box-sizing:border-box;"></div>
<div class="t" style="left:9.08px;top:24.62px;font-size:2.53px;line-height:2.53px;color:#1a1a1a;font-weight:bold;font-family:'Liberation Sans', Arial, sans-serif;-webkit-text-stroke:0.06px #1a1a1a;">Diabetes mellitus</div>
<div class="b" style="left:9.08px;top:27.94px;width:75.82px;height:5.83px;background:#fff;border:0.3px solid #eeeeee;border-radius:0.7px;box-sizing:border-box;"></div>
<div class="t" style="left:11.32px;top:30.52px;font-size:2.53px;line-height:2.53px;color:#222;font-weight:normal;font-family:'Liberation Sans', Arial, sans-serif;">No</div>
<div class="b" style="left:80.5px;top:30.41px;width:0;height:0;border-left:0.7px solid transparent;border-right:0.7px solid transparent;border-top:0.9px solid #555;"></div>
<div class="t" style="left:9.08px;top:38.91px;font-size:2.53px;line-height:2.53px;color:#1a1a1a;font-weight:bold;font-family:'Liberation Sans', Arial, sans-serif;-webkit-text-stroke:0.06px #1a1a1a;">Pulmonary edema</div>
<div class="b" style="left:9.08px;top:42.14px;width:75.82px;height:6.03px;background:#fff;border:0.3px solid #eeeeee;border-radius:0.7px;box-sizing:border-box;"></div>
<div class="t" style="left:11.32px;top:44.81px;font-size:2.53px;line-height:2.53px;color:#222;font-weight:normal;font-family:'Liberation Sans', Arial, sans-serif;">Yes</div>
<div class="b" style="left:80.5px;top:44.70px;width:0;height:0;border-left:0.7px solid transparent;border-right:0.7px solid transparent;border-top:0.9px solid #555;"></div>
<div class="t" style="left:9.08px;top:53.68px;font-size:2.53px;line-height:2.53px;color:#1a1a1a;font-weight:bold;font-family:'Liberation Sans', Arial, sans-serif;-webkit-text-stroke:0.06px #1a1a1a;">Age years</div>
<div class="b" style="left:9.00px;top:56.91px;width:3.60px;height:2.92px;background:#ebebeb;border-radius:0.5px;"></div>
<div class="t" style="left:9.50px;top:58.06px;font-size:2.33px;line-height:2.33px;color:#333;font-weight:normal;font-family:'Liberation Sans', Arial, sans-serif;">18</div>
<div class="b" style="left:82.70px;top:56.91px;width:2.90px;height:2.92px;background:#ebebeb;border-radius:0.5px;"></div>
<div class="t" style="left:83.10px;top:58.06px;font-size:2.33px;line-height:2.33px;color:#333;font-weight:normal;font-family:'Liberation Sans', Arial, sans-serif;">90</div>
<div class="b" style="left:9.00px;top:61.48px;width:77.20px;height:1.36px;background:#e2e2e2;border-radius:0.7px;"></div>
<div class="b" style="left:9.00px;top:61.38px;width:47.10px;height:1.56px;background:#3479b8;border-radius:0.8px 0 0 0.8px;"></div>
<div class="b" style="left:56.10px;top:56.81px;width:4.10px;height:3.50px;background:#428bca;border-radius:0.5px;"></div>
<div class="t" style="left:53.15px;top:58.15px;width:10px;text-align:center;font-size:2.14px;line-height:2.14px;color:#fff;font-weight:normal;font-family:'Liberation Sans', Arial, sans-serif">64</div>
<div class="b" style="left:10.78px;top:63.23px;width:0.24px;height:1.07px;background:#aaa;"></div>
<div class="t" style="left:5.90px;top:65.83px;width:10px;text-align:center;font-size:2.33px;line-height:2.33px;color:#444;font-weight:normal;font-family:'Liberation Sans', Arial, sans-serif">18</div>
<div class="b" style="left:18.98px;top:63.23px;width:0.24px;height:1.07px;background:#aaa;"></div>
<div class="t" style="left:14.10px;top:65.83px;width:10px;text-align:center;font-size:2.33px;line-height:2.33px;color:#444;font-weight:normal;font-family:'Liberation Sans', Arial, sans-serif">26</div>
<div class="b" style="left:27.18px;top:63.23px;width:0.24px;height:1.07px;background:#aaa;"></div>
<div class="t" style="left:22.30px;top:65.83px;width:10px;text-align:center;font-size:2.33px;line-height:2.33px;color:#444;font-weight:normal;font-family:'Liberation Sans', Arial, sans-serif">34</div>
<div class="b" style="left:35.38px;top:63.23px;width:0.24px;height:1.07px;background:#aaa;"></div>
<div class="t" style="left:30.50px;top:65.83px;width:10px;text-align:center;font-size:2.33px;line-height:2.33px;color:#444;font-weight:normal;font-family:'Liberation Sans', Arial, sans-serif">42</div>
<div class="b" style="left:43.58px;top:63.23px;width:0.24px;height:1.07px;background:#aaa;"></div>
<div class="t" style="left:38.70px;top:65.83px;width:10px;text-align:center;font-size:2.33px;line-height:2.33px;color:#444;font-weight:normal;font-family:'Liberation Sans', Arial, sans-serif">50</div>
<div class="b" style="left:51.78px;top:63.23px;width:0.24px;height:1.07px;background:#aaa;"></div>
<div class="t" style="left:46.90px;top:65.83px;width:10px;text-align:center;font-size:2.33px;line-height:2.33px;color:#444;font-weight:normal;font-family:'Liberation Sans', Arial, sans-serif">58</div>
<div class="b" style="left:59.98px;top:63.23px;width:0.24px;height:1.07px;background:#aaa;"></div>
<div class="t" style="left:55.10px;top:65.83px;width:10px;text-align:center;font-size:2.33px;line-height:2.33px;color:#444;font-weight:normal;font-family:'Liberation Sans', Arial, sans-serif">66</div>
<div class="b" style="left:68.18px;top:63.23px;width:0.24px;height:1.07px;background:#aaa;"></div>
<div class="t" style="left:63.30px;top:65.83px;width:10px;text-align:center;font-size:2.33px;line-height:2.33px;color:#444;font-weight:normal;font-family:'Liberation Sans', Arial, sans-serif">74</div>
<div class="b" style="left:76.38px;top:63.23px;width:0.24px;height:1.07px;background:#aaa;"></div>
<div class="t" style="left:71.50px;top:65.83px;width:10px;text-align:center;font-size:2.33px;line-height:2.33px;color:#444;font-weight:normal;font-family:'Liberation Sans', Arial, sans-serif">82</div>
<div class="b" style="left:84.58px;top:63.23px;width:0.24px;height:1.07px;background:#aaa;"></div>
<div class="t" style="left:79.70px;top:65.83px;width:10px;text-align:center;font-size:2.33px;line-height:2.33px;color:#444;font-weight:normal;font-family:'Liberation Sans', Arial, sans-serif">90</div>
<div class="t" style="left:9.08px;top:72.44px;font-size:2.53px;line-height:2.53px;color:#1a1a1a;font-weight:bold;font-family:'Liberation Sans', Arial, sans-serif;-webkit-text-stroke:0.06px #1a1a1a;">Intraoperative RBC units</div>
<div class="b" style="left:9.00px;top:75.67px;width:2.28px;height:2.92px;background:#ebebeb;border-radius:0.5px;"></div>
<div class="t" style="left:9.50px;top:76.82px;font-size:2.33px;line-height:2.33px;color:#333;font-weight:normal;font-family:'Liberation Sans', Arial, sans-serif;">0</div>
<div class="b" style="left:82.90px;top:75.67px;width:2.70px;height:2.92px;background:#ebebeb;border-radius:0.5px;"></div>
<div class="t" style="left:83.30px;top:76.82px;font-size:2.33px;line-height:2.33px;color:#333;font-weight:normal;font-family:'Liberation Sans', Arial, sans-serif;">10</div>
<div class="b" style="left:9.00px;top:80.04px;width:77.20px;height:1.36px;background:#e2e2e2;border-radius:0.7px;"></div>
<div class="b" style="left:9.00px;top:79.95px;width:36.80px;height:1.56px;background:#3479b8;border-radius:0.8px 0 0 0.8px;"></div>
<div class="b" style="left:45.80px;top:75.48px;width:3.10px;height:3.21px;background:#428bca;border-radius:0.5px;"></div>
<div class="t" style="left:42.35px;top:76.66px;width:10px;text-align:center;font-size:2.14px;line-height:2.14px;color:#fff;font-weight:normal;font-family:'Liberation Sans', Arial, sans-serif">5</div>
<div class="b" style="left:10.78px;top:81.79px;width:0.24px;height:1.07px;background:#aaa;"></div>
<div class="t" style="left:5.90px;top:84.40px;width:10px;text-align:center;font-size:2.33px;line-height:2.33px;color:#444;font-weight:normal;font-family:'Liberation Sans', Arial, sans-serif">0</div>
<div class="b" style="left:18.12px;top:81.79px;width:0.24px;height:1.07px;background:#aaa;"></div>
<div class="t" style="left:13.24px;top:84.40px;width:10px;text-align:center;font-size:2.33px;line-height:2.33px;color:#444;font-weight:normal;font-family:'Liberation Sans', Arial, sans-serif">1</div>
<div class="b" style="left:25.46px;top:81.79px;width:0.24px;height:1.07px;background:#aaa;"></div>
<div class="t" style="left:20.58px;top:84.40px;width:10px;text-align:center;font-size:2.33px;line-height:2.33px;color:#444;font-weight:normal;font-family:'Liberation Sans', Arial, sans-serif">2</div>
<div class="b" style="left:32.80px;top:81.79px;width:0.24px;height:1.07px;background:#aaa;"></div>
<div class="t" style="left:27.92px;top:84.40px;width:10px;text-align:center;font-size:2.33px;line-height:2.33px;color:#444;font-weight:normal;font-family:'Liberation Sans', Arial, sans-serif">3</div>
<div class="b" style="left:40.14px;top:81.79px;width:0.24px;height:1.07px;background:#aaa;"></div>
<div class="t" style="left:35.26px;top:84.40px;width:10px;text-align:center;font-size:2.33px;line-height:2.33px;color:#444;font-weight:normal;font-family:'Liberation Sans', Arial, sans-serif">4</div>
<div class="b" style="left:47.48px;top:81.79px;width:0.24px;height:1.07px;background:#aaa;"></div>
<div class="t" style="left:42.60px;top:84.40px;width:10px;text-align:center;font-size:2.33px;line-height:2.33px;color:#444;font-weight:normal;font-family:'Liberation Sans', Arial, sans-serif">5</div>
<div class="b" style="left:54.82px;top:81.79px;width:0.24px;height:1.07px;background:#aaa;"></div>
<div class="t" style="left:49.94px;top:84.40px;width:10px;text-align:center;font-size:2.33px;line-height:2.33px;color:#444;font-weight:normal;font-family:'Liberation Sans', Arial, sans-serif">6</div>
<div class="b" style="left:62.16px;top:81.79px;width:0.24px;height:1.07px;background:#aaa;"></div>
<div class="t" style="left:57.28px;top:84.40px;width:10px;text-align:center;font-size:2.33px;line-height:2.33px;color:#444;font-weight:normal;font-family:'Liberation Sans', Arial, sans-serif">7</div>
<div class="b" style="left:69.50px;top:81.79px;width:0.24px;height:1.07px;background:#aaa;"></div>
<div class="t" style="left:64.62px;top:84.40px;width:10px;text-align:center;font-size:2.33px;line-height:2.33px;color:#444;font-weight:normal;font-family:'Liberation Sans', Arial, sans-serif">8</div>
<div class="b" style="left:76.84px;top:81.79px;width:0.24px;height:1.07px;background:#aaa;"></div>
<div class="t" style="left:71.96px;top:84.40px;width:10px;text-align:center;font-size:2.33px;line-height:2.33px;color:#444;font-weight:normal;font-family:'Liberation Sans', Arial, sans-serif">9</div>
<div class="b" style="left:84.18px;top:81.79px;width:0.24px;height:1.07px;background:#aaa;"></div>
<div class="t" style="left:79.30px;top:84.40px;width:10px;text-align:center;font-size:2.33px;line-height:2.33px;color:#444;font-weight:normal;font-family:'Liberation Sans', Arial, sans-serif">10</div>
<div class="t" style="left:9.08px;top:90.81px;font-size:2.53px;line-height:2.53px;color:#1a1a1a;font-weight:bold;font-family:'Liberation Sans', Arial, sans-serif;-webkit-text-stroke:0.06px #1a1a1a;">Surgical types</div>
<div class="b" style="left:9.08px;top:94.53px;width:75.82px;height:4.96px;background:#fff;border:0.3px solid #eeeeee;border-radius:0.7px;box-sizing:border-box;"></div>
<div class="t" style="left:11.32px;top:96.66px;font-size:2.53px;line-height:2.53px;color:#222;font-weight:normal;font-family:'Liberation Sans', Arial, sans-serif;">Combined aortic surgery</div>
<div class="b" style="left:80.5px;top:96.56px;width:0;height:0;border-left:0.7px solid transparent;border-right:0.7px solid transparent;border-top:0.9px solid #555;"></div>
<div class="b" style="left:9.47px;top:104.93px;width:1.65px;height:1.65px;background:#fff;border:0.3px solid #dcdcdc;border-radius:0.3px;box-sizing:border-box;"></div>
<div class="t" style="left:12.38px;top:105.46px;font-size:2.53px;line-height:2.53px;color:#444;font-weight:normal;font-family:'Liberation Sans', Arial, sans-serif;">Set x-axis ranges</div>
<div class="b" style="left:9.08px;top:111.15px;width:12.15px;height:5.05px;background:#fff;border:0.3px solid #eeeeee;border-radius:0.7px;box-sizing:border-box;"></div>
<div class="t" style="left:11.12px;top:113.33px;font-size:2.53px;line-height:2.53px;color:#333;font-weight:normal;font-family:'Liberation Sans', Arial, sans-serif;">Predict</div>
<div class="t" style="left:9.08px;top:122.95px;font-size:2.53px;line-height:2.53px;color:#888;font-weight:normal;font-family:'Liberation Sans', Arial, sans-serif;">Press Quit to exit the application</div>
<div class="b" style="left:9.08px;top:127.57px;width:9.04px;height:4.76px;background:#fff;border:0.3px solid #eeeeee;border-radius:0.7px;box-sizing:border-box;"></div>
<div class="t" style="left:11.02px;top:129.66px;font-size:2.53px;line-height:2.53px;color:#333;font-weight:normal;font-family:'Liberation Sans', Arial, sans-serif;">Quit</div>
<div class="t" style="left:98.00px;top:22.96px;font-size:2.53px;line-height:2.53px;color:#3a7fc0;font-weight:normal;font-family:'Liberation Sans', Arial, sans-serif;">Graphical Summary</div>
<div class="t" style="left:127.40px;top:22.96px;font-size:2.53px;line-height:2.53px;color:#666;font-weight:normal;font-family:'Liberation Sans', Arial, sans-serif;">Numerical Summary</div>
<div class="t" style="left:157.20px;top:22.96px;font-size:2.53px;line-height:2.53px;color:#3a7fc0;font-weight:normal;font-family:'Liberation Sans', Arial, sans-serif;">Model Summary</div>
<div class="b" style="left:94.90px;top:26.70px;width:174.70px;height:60.60px;background:#f5f5f5;border:0.3px solid #e6e6e6;border-radius:0.7px;box-sizing:border-box;"></div>
<div class="b" style="left:0;top:0;width:269.5px;height:100px;overflow:hidden"><div class="b" style="left:97.20px;top:33.80px;width:172.20px;height:0.90px;background:#8a8a8a;opacity:0.8;"></div>
<div class="t" style="left:97.20px;top:37.52px;font-size:2.6px;line-height:2.6px;color:#1e1e1e;font-weight:normal;font-family:'Liberation Mono', monospace;transform:scaleX(0.8545);transform-origin:0 0;white-space:pre;">   Diabetes mellitus Pulmonary edema Age years Intraoperative RBC units     Surgical types      Prediction Lower bound Upper bound</div>
<div class="b" style="left:97.20px;top:40.50px;width:172.20px;height:0.70px;background:#bdbdbd;"></div>
<div class="t" style="left:97.20px;top:43.82px;font-size:2.6px;line-height:2.6px;color:#1e1e1e;font-weight:normal;font-family:'Liberation Mono', monospace;transform:scaleX(0.8545);transform-origin:0 0;white-space:pre;">1         No               No           54                1             Isolated valve surgery    0.005       0.001       0.404   </div>
<div class="t" style="left:97.20px;top:47.23px;font-size:2.6px;line-height:2.6px;color:#1e1e1e;font-weight:normal;font-family:'Liberation Mono', monospace;transform:scaleX(0.8545);transform-origin:0 0;white-space:pre;">2         Yes              No           69                2                  Combined CABG        0.008       0.001       0.012   </div>
<div class="t" style="left:97.20px;top:50.64px;font-size:2.6px;line-height:2.6px;color:#1e1e1e;font-weight:normal;font-family:'Liberation Mono', monospace;transform:scaleX(0.8545);transform-origin:0 0;white-space:pre;">3         Yes              Yes          63                2                  Combined CABG        0.054       0.016       0.142   </div>
<div class="t" style="left:97.20px;top:54.05px;font-size:2.6px;line-height:2.6px;color:#1e1e1e;font-weight:normal;font-family:'Liberation Mono', monospace;transform:scaleX(0.8545);transform-origin:0 0;white-space:pre;">4         Yes              Yes          63                2             Combined aortic surgery   0.132       0.047       0.329   </div>
<div class="t" style="left:97.20px;top:57.46px;font-size:2.6px;line-height:2.6px;color:#1e1e1e;font-weight:normal;font-family:'Liberation Mono', monospace;transform:scaleX(0.8545);transform-origin:0 0;white-space:pre;">5         Yes              Yes          65                3             Combined aortic surgery   0.286       0.179       0.478   </div>
<div class="t" style="left:97.20px;top:60.87px;font-size:2.6px;line-height:2.6px;color:#1e1e1e;font-weight:normal;font-family:'Liberation Mono', monospace;transform:scaleX(0.8545);transform-origin:0 0;white-space:pre;">6         Yes              Yes          73                4             Combined aortic surgery   0.415       0.335       0.666   </div>
<div class="t" style="left:97.20px;top:64.28px;font-size:2.6px;line-height:2.6px;color:#1e1e1e;font-weight:normal;font-family:'Liberation Mono', monospace;transform:scaleX(0.8545);transform-origin:0 0;white-space:pre;">7         Yes              Yes          57                4             Combined aortic surgery   0.317       0.139       0.579   </div>
<div class="t" style="left:97.20px;top:67.69px;font-size:2.6px;line-height:2.6px;color:#1e1e1e;font-weight:normal;font-family:'Liberation Mono', monospace;transform:scaleX(0.8545);transform-origin:0 0;white-space:pre;">8         Yes              Yes          73                4                  Combined CABG        0.067       0.022       0.178   </div>
<div class="t" style="left:97.20px;top:71.10px;font-size:2.6px;line-height:2.6px;color:#1e1e1e;font-weight:normal;font-family:'Liberation Mono', monospace;transform:scaleX(0.8545);transform-origin:0 0;white-space:pre;">9         Yes              Yes          69                6                  Combined CABG        0.270       0.119       0.514   </div>
<div class="t" style="left:97.20px;top:74.51px;font-size:2.6px;line-height:2.6px;color:#1e1e1e;font-weight:normal;font-family:'Liberation Mono', monospace;transform:scaleX(0.8545);transform-origin:0 0;white-space:pre;">10        No               No           58                5                  Combined CABG        0.051       0.016       0.071   </div>
<div class="t" style="left:97.20px;top:77.92px;font-size:2.6px;line-height:2.6px;color:#1e1e1e;font-weight:normal;font-family:'Liberation Mono', monospace;transform:scaleX(0.8545);transform-origin:0 0;white-space:pre;">11        No               Yes          58                5             Combined aortic surgery   0.141       0.064       0.285   </div>
<div class="b" style="left:97.20px;top:81.20px;width:172.20px;height:0.80px;background:#c8c8c8;"></div></div>
<div class="b" style="left:97.00px;top:85.50px;width:169.50px;height:1.00px;background:#c1c1c1;border-radius:0.5px;"></div>
</div>
<div class="p" style="left:275.5px;top:143.2px">
<div class="t" style="left:5.00px;top:13.23px;font-size:5.9px;line-height:5.9px;color:#333;font-weight:normal;font-family:'Liberation Sans', Arial, sans-serif;letter-spacing:-0.070px;-webkit-text-stroke:0.15px #333;">Dynamic Nomogram</div>
<div class="b" style="left:4.90px;top:19.20px;width:83.90px;height:121.10px;background:#f5f5f5;border:0.3px solid #ededed;border-radius:0.8px;box-sizing:border-box;"></div>
<div class="t" style="left:9.20px;top:25.03px;font-size:2.6px;line-height:2.6px;color:#1a1a1a;font-weight:bold;font-family:'Liberation Sans', Arial, sans-serif;-webkit-text-stroke:0.06px #1a1a1a;">Diabetes mellitus</div>
<div class="b" style="left:9.20px;top:28.40px;width:75.70px;height:6.00px;background:#fff;border:0.3px solid #eeeeee;border-radius:0.7px;box-sizing:border-box;"></div>
<div class="t" style="left:11.50px;top:31.14px;font-size:2.6px;line-height:2.6px;color:#222;font-weight:normal;font-family:'Liberation Sans', Arial, sans-serif;">No</div>
<div class="b" style="left:80.5px;top:30.95px;width:0;height:0;border-left:0.7px solid transparent;border-right:0.7px solid transparent;border-top:0.9px solid #555;"></div>
<div class="t" style="left:9.20px;top:39.73px;font-size:2.6px;line-height:2.6px;color:#1a1a1a;font-weight:bold;font-family:'Liberation Sans', Arial, sans-serif;-webkit-text-stroke:0.06px #1a1a1a;">Pulmonary edema</div>
<div class="b" style="left:9.20px;top:43.00px;width:75.70px;height:6.20px;background:#fff;border:0.3px solid #eeeeee;border-radius:0.7px;box-sizing:border-box;"></div>
<div class="t" style="left:11.50px;top:45.84px;font-size:2.6px;line-height:2.6px;color:#222;font-weight:normal;font-family:'Liberation Sans', Arial, sans-serif;">Yes</div>
<div class="b" style="left:80.5px;top:45.65px;width:0;height:0;border-left:0.7px solid transparent;border-right:0.7px solid transparent;border-top:0.9px solid #555;"></div>
<div class="t" style="left:9.20px;top:54.93px;font-size:2.6px;line-height:2.6px;color:#1a1a1a;font-weight:bold;font-family:'Liberation Sans', Arial, sans-serif;-webkit-text-stroke:0.06px #1a1a1a;">Age years</div>
<div class="b" style="left:9.00px;top:58.20px;width:3.70px;height:3.00px;background:#ebebeb;border-radius:0.5px;"></div>
<div class="t" style="left:9.50px;top:59.40px;font-size:2.4px;line-height:2.4px;color:#333;font-weight:normal;font-family:'Liberation Sans', Arial, sans-serif;">18</div>
<div class="b" style="left:82.70px;top:58.20px;width:2.90px;height:3.00px;background:#ebebeb;border-radius:0.5px;"></div>
<div class="t" style="left:83.10px;top:59.40px;font-size:2.4px;line-height:2.4px;color:#333;font-weight:normal;font-family:'Liberation Sans', Arial, sans-serif;">90</div>
<div class="b" style="left:9.00px;top:62.90px;width:77.20px;height:1.40px;background:#e2e2e2;border-radius:0.7px;"></div>
<div class="b" style="left:9.00px;top:62.80px;width:47.10px;height:1.60px;background:#3479b8;border-radius:0.8px 0 0 0.8px;"></div>
<div class="b" style="left:56.10px;top:58.10px;width:4.10px;height:3.60px;background:#428bca;border-radius:0.5px;"></div>
<div class="t" style="left:53.15px;top:59.52px;width:10px;text-align:center;font-size:2.2px;line-height:2.2px;color:#fff;font-weight:normal;font-family:'Liberation Sans', Arial, sans-serif">64</div>
<div class="b" style="left:10.78px;top:64.70px;width:0.24px;height:1.10px;background:#aaa;"></div>
<div class="t" style="left:5.90px;top:67.40px;width:10px;text-align:center;font-size:2.4px;line-height:2.4px;color:#444;font-weight:normal;font-family:'Liberation Sans', Arial, sans-serif">18</div>
<div class="b" style="left:18.98px;top:64.70px;width:0.24px;height:1.10px;background:#aaa;"></div>
<div class="t" style="left:14.10px;top:67.40px;width:10px;text-align:center;font-size:2.4px;line-height:2.4px;color:#444;font-weight:normal;font-family:'Liberation Sans', Arial, sans-serif">26</div>
<div class="b" style="left:27.18px;top:64.70px;width:0.24px;height:1.10px;background:#aaa;"></div>
<div class="t" style="left:22.30px;top:67.40px;width:10px;text-align:center;font-size:2.4px;line-height:2.4px;color:#444;font-weight:normal;font-family:'Liberation Sans', Arial, sans-serif">34</div>
<div class="b" style="left:35.38px;top:64.70px;width:0.24px;height:1.10px;background:#aaa;"></div>
<div class="t" style="left:30.50px;top:67.40px;width:10px;text-align:center;font-size:2.4px;line-height:2.4px;color:#444;font-weight:normal;font-family:'Liberation Sans', Arial, sans-serif">42</div>
<div class="b" style="left:43.58px;top:64.70px;width:0.24px;height:1.10px;background:#aaa;"></div>
<div class="t" style="left:38.70px;top:67.40px;width:10px;text-align:center;font-size:2.4px;line-height:2.4px;color:#444;font-weight:normal;font-family:'Liberation Sans', Arial, sans-serif">50</div>
<div class="b" style="left:51.78px;top:64.70px;width:0.24px;height:1.10px;background:#aaa;"></div>
<div class="t" style="left:46.90px;top:67.40px;width:10px;text-align:center;font-size:2.4px;line-height:2.4px;color:#444;font-weight:normal;font-family:'Liberation Sans', Arial, sans-serif">58</div>
<div class="b" style="left:59.98px;top:64.70px;width:0.24px;height:1.10px;background:#aaa;"></div>
<div class="t" style="left:55.10px;top:67.40px;width:10px;text-align:center;font-size:2.4px;line-height:2.4px;color:#444;font-weight:normal;font-family:'Liberation Sans', Arial, sans-serif">66</div>
<div class="b" style="left:68.18px;top:64.70px;width:0.24px;height:1.10px;background:#aaa;"></div>
<div class="t" style="left:63.30px;top:67.40px;width:10px;text-align:center;font-size:2.4px;line-height:2.4px;color:#444;font-weight:normal;font-family:'Liberation Sans', Arial, sans-serif">74</div>
<div class="b" style="left:76.38px;top:64.70px;width:0.24px;height:1.10px;background:#aaa;"></div>
<div class="t" style="left:71.50px;top:67.40px;width:10px;text-align:center;font-size:2.4px;line-height:2.4px;color:#444;font-weight:normal;font-family:'Liberation Sans', Arial, sans-serif">82</div>
<div class="b" style="left:84.58px;top:64.70px;width:0.24px;height:1.10px;background:#aaa;"></div>
<div class="t" style="left:79.70px;top:67.40px;width:10px;text-align:center;font-size:2.4px;line-height:2.4px;color:#444;font-weight:normal;font-family:'Liberation Sans', Arial, sans-serif">90</div>
<div class="t" style="left:9.20px;top:74.23px;font-size:2.6px;line-height:2.6px;color:#1a1a1a;font-weight:bold;font-family:'Liberation Sans', Arial, sans-serif;-webkit-text-stroke:0.06px #1a1a1a;">Intraoperative RBC units</div>
<div class="b" style="left:9.00px;top:77.50px;width:2.35px;height:3.00px;background:#ebebeb;border-radius:0.5px;"></div>
<div class="t" style="left:9.50px;top:78.70px;font-size:2.4px;line-height:2.4px;color:#333;font-weight:normal;font-family:'Liberation Sans', Arial, sans-serif;">0</div>
<div class="b" style="left:82.90px;top:77.50px;width:2.70px;height:3.00px;background:#ebebeb;border-radius:0.5px;"></div>
<div class="t" style="left:83.30px;top:78.70px;font-size:2.4px;line-height:2.4px;color:#333;font-weight:normal;font-family:'Liberation Sans', Arial, sans-serif;">10</div>
<div class="b" style="left:9.00px;top:82.00px;width:77.20px;height:1.40px;background:#e2e2e2;border-radius:0.7px;"></div>
<div class="b" style="left:9.00px;top:81.90px;width:36.80px;height:1.60px;background:#3479b8;border-radius:0.8px 0 0 0.8px;"></div>
<div class="b" style="left:45.80px;top:77.30px;width:3.10px;height:3.30px;background:#428bca;border-radius:0.5px;"></div>
<div class="t" style="left:42.35px;top:78.57px;width:10px;text-align:center;font-size:2.2px;line-height:2.2px;color:#fff;font-weight:normal;font-family:'Liberation Sans', Arial, sans-serif">5</div>
<div class="b" style="left:10.78px;top:83.80px;width:0.24px;height:1.10px;background:#aaa;"></div>
<div class="t" style="left:5.90px;top:86.50px;width:10px;text-align:center;font-size:2.4px;line-height:2.4px;color:#444;font-weight:normal;font-family:'Liberation Sans', Arial, sans-serif">0</div>
<div class="b" style="left:18.12px;top:83.80px;width:0.24px;height:1.10px;background:#aaa;"></div>
<div class="t" style="left:13.24px;top:86.50px;width:10px;text-align:center;font-size:2.4px;line-height:2.4px;color:#444;font-weight:normal;font-family:'Liberation Sans', Arial, sans-serif">1</div>
<div class="b" style="left:25.46px;top:83.80px;width:0.24px;height:1.10px;background:#aaa;"></div>
<div class="t" style="left:20.58px;top:86.50px;width:10px;text-align:center;font-size:2.4px;line-height:2.4px;color:#444;font-weight:normal;font-family:'Liberation Sans', Arial, sans-serif">2</div>
<div class="b" style="left:32.80px;top:83.80px;width:0.24px;height:1.10px;background:#aaa;"></div>
<div class="t" style="left:27.92px;top:86.50px;width:10px;text-align:center;font-size:2.4px;line-height:2.4px;color:#444;font-weight:normal;font-family:'Liberation Sans', Arial, sans-serif">3</div>
<div class="b" style="left:40.14px;top:83.80px;width:0.24px;height:1.10px;background:#aaa;"></div>
<div class="t" style="left:35.26px;top:86.50px;width:10px;text-align:center;font-size:2.4px;line-height:2.4px;color:#444;font-weight:normal;font-family:'Liberation Sans', Arial, sans-serif">4</div>
<div class="b" style="left:47.48px;top:83.80px;width:0.24px;height:1.10px;background:#aaa;"></div>
<div class="t" style="left:42.60px;top:86.50px;width:10px;text-align:center;font-size:2.4px;line-height:2.4px;color:#444;font-weight:normal;font-family:'Liberation Sans', Arial, sans-serif">5</div>
<div class="b" style="left:54.82px;top:83.80px;width:0.24px;height:1.10px;background:#aaa;"></div>
<div class="t" style="left:49.94px;top:86.50px;width:10px;text-align:center;font-size:2.4px;line-height:2.4px;color:#444;font-weight:normal;font-family:'Liberation Sans', Arial, sans-serif">6</div>
<div class="b" style="left:62.16px;top:83.80px;width:0.24px;height:1.10px;background:#aaa;"></div>
<div class="t" style="left:57.28px;top:86.50px;width:10px;text-align:center;font-size:2.4px;line-height:2.4px;color:#444;font-weight:normal;font-family:'Liberation Sans', Arial, sans-serif">7</div>
<div class="b" style="left:69.50px;top:83.80px;width:0.24px;height:1.10px;background:#aaa;"></div>
<div class="t" style="left:64.62px;top:86.50px;width:10px;text-align:center;font-size:2.4px;line-height:2.4px;color:#444;font-weight:normal;font-family:'Liberation Sans', Arial, sans-serif">8</div>
<div class="b" style="left:76.84px;top:83.80px;width:0.24px;height:1.10px;background:#aaa;"></div>
<div class="t" style="left:71.96px;top:86.50px;width:10px;text-align:center;font-size:2.4px;line-height:2.4px;color:#444;font-weight:normal;font-family:'Liberation Sans', Arial, sans-serif">9</div>
<div class="b" style="left:84.18px;top:83.80px;width:0.24px;height:1.10px;background:#aaa;"></div>
<div class="t" style="left:79.30px;top:86.50px;width:10px;text-align:center;font-size:2.4px;line-height:2.4px;color:#444;font-weight:normal;font-family:'Liberation Sans', Arial, sans-serif">10</div>
<div class="t" style="left:9.20px;top:93.13px;font-size:2.6px;line-height:2.6px;color:#1a1a1a;font-weight:bold;font-family:'Liberation Sans', Arial, sans-serif;-webkit-text-stroke:0.06px #1a1a1a;">Surgical types</div>
<div class="b" style="left:9.20px;top:96.90px;width:75.70px;height:5.10px;background:#fff;border:0.3px solid #eeeeee;border-radius:0.7px;box-sizing:border-box;"></div>
<div class="t" style="left:11.50px;top:99.19px;font-size:2.6px;line-height:2.6px;color:#222;font-weight:normal;font-family:'Liberation Sans', Arial, sans-serif;">Combined aortic surgery</div>
<div class="b" style="left:80.5px;top:99.00px;width:0;height:0;border-left:0.7px solid transparent;border-right:0.7px solid transparent;border-top:0.9px solid #555;"></div>
<div class="b" style="left:9.60px;top:107.60px;width:1.70px;height:1.70px;background:#fff;border:0.3px solid #dcdcdc;border-radius:0.3px;box-sizing:border-box;"></div>
<div class="t" style="left:12.60px;top:108.24px;font-size:2.6px;line-height:2.6px;color:#444;font-weight:normal;font-family:'Liberation Sans', Arial, sans-serif;">Set x-axis ranges</div>
<div class="b" style="left:9.20px;top:114.00px;width:12.50px;height:5.20px;background:#fff;border:0.3px solid #eeeeee;border-radius:0.7px;box-sizing:border-box;"></div>
<div class="t" style="left:11.30px;top:116.34px;font-size:2.6px;line-height:2.6px;color:#333;font-weight:normal;font-family:'Liberation Sans', Arial, sans-serif;">Predict</div>
<div class="t" style="left:9.20px;top:126.24px;font-size:2.6px;line-height:2.6px;color:#888;font-weight:normal;font-family:'Liberation Sans', Arial, sans-serif;">Press Quit to exit the application</div>
<div class="b" style="left:9.20px;top:130.90px;width:9.30px;height:4.90px;background:#fff;border:0.3px solid #eeeeee;border-radius:0.7px;box-sizing:border-box;"></div>
<div class="t" style="left:11.20px;top:133.14px;font-size:2.6px;line-height:2.6px;color:#333;font-weight:normal;font-family:'Liberation Sans', Arial, sans-serif;">Quit</div>
<div class="t" style="left:98.30px;top:23.74px;font-size:2.6px;line-height:2.6px;color:#3a7fc0;font-weight:normal;font-family:'Liberation Sans', Arial, sans-serif;">Graphical Summary</div>
<div class="t" style="left:128.60px;top:23.74px;font-size:2.6px;line-height:2.6px;color:#3a7fc0;font-weight:normal;font-family:'Liberation Sans', Arial, sans-serif;">Numerical Summary</div>
<div class="t" style="left:159.30px;top:23.74px;font-size:2.6px;line-height:2.6px;color:#666;font-weight:normal;font-family:'Liberation Sans', Arial, sans-serif;">Model Summary</div>
<div class="b" style="left:94.50px;top:27.20px;width:176.00px;height:102.50px;background:#f5f5f5;border:0.3px solid #e6e6e6;border-radius:0.7px;box-sizing:border-box;"></div>
<div class="t" style="left:97.40px;top:33.97px;font-size:2.6px;line-height:2.6px;color:#1e1e1e;font-weight:normal;font-family:'Liberation Mono', monospace;transform:scaleX(0.8686);transform-origin:0 0;white-space:pre;">Call:</div>
<div class="t" style="left:97.40px;top:37.49px;font-size:2.6px;line-height:2.6px;color:#1e1e1e;font-weight:normal;font-family:'Liberation Mono', monospace;transform:scaleX(0.8686);transform-origin:0 0;white-space:pre;">glm(formula = Postoperative tracheotomy ~ ., family = binomial(), </div>
<div class="t" style="left:97.40px;top:41.02px;font-size:2.6px;line-height:2.6px;color:#1e1e1e;font-weight:normal;font-family:'Liberation Mono', monospace;transform:scaleX(0.8686);transform-origin:0 0;white-space:pre;">    data = data)</div>
<div class="t" style="left:97.40px;top:48.07px;font-size:2.6px;line-height:2.6px;color:#1e1e1e;font-weight:normal;font-family:'Liberation Mono', monospace;transform:scaleX(0.8686);transform-origin:0 0;white-space:pre;">Deviance Residuals: </div>
<div class="t" style="left:97.40px;top:51.60px;font-size:2.6px;line-height:2.6px;color:#1e1e1e;font-weight:normal;font-family:'Liberation Mono', monospace;transform:scaleX(0.8686);transform-origin:0 0;white-space:pre;">    Min       1Q   Median       3Q      Max  </div>
<div class="t" style="left:97.40px;top:55.13px;font-size:2.6px;line-height:2.6px;color:#1e1e1e;font-weight:normal;font-family:'Liberation Mono', monospace;transform:scaleX(0.8686);transform-origin:0 0;white-space:pre;">-1.1569  -0.1064  -0.0579  -0.0404   3.5495  </div>
<div class="t" style="left:97.40px;top:62.18px;font-size:2.6px;line-height:2.6px;color:#1e1e1e;font-weight:normal;font-family:'Liberation Mono', monospace;transform:scaleX(0.8686);transform-origin:0 0;white-space:pre;">Coefficients:</div>
<div class="t" style="left:97.40px;top:65.71px;font-size:2.6px;line-height:2.6px;color:#1e1e1e;font-weight:normal;font-family:'Liberation Mono', monospace;transform:scaleX(0.8686);transform-origin:0 0;white-space:pre;">                                      Estimate Std. Error z value Pr(&gt;|z|)    </div>
<div class="t" style="left:97.40px;top:69.24px;font-size:2.6px;line-height:2.6px;color:#1e1e1e;font-weight:normal;font-family:'Liberation Mono', monospace;transform:scaleX(0.8686);transform-origin:0 0;white-space:pre;">(Intercept)                           -8.71587    0.59011 -14.770  &lt; 2e-16 ***</div>
<div class="t" style="left:97.40px;top:72.76px;font-size:2.6px;line-height:2.6px;color:#1e1e1e;font-weight:normal;font-family:'Liberation Mono', monospace;transform:scaleX(0.8686);transform-origin:0 0;white-space:pre;">Diabetes mellitusYes                   1.07467    0.38524   2.790  0.00528 ** </div>
<div class="t" style="left:97.40px;top:76.29px;font-size:2.6px;line-height:2.6px;color:#1e1e1e;font-weight:normal;font-family:'Liberation Mono', monospace;transform:scaleX(0.8686);transform-origin:0 0;white-space:pre;">Pulmonary edemaYes                     1.07819    0.38530   2.798  0.00514 ** </div>
<div class="t" style="left:97.40px;top:79.82px;font-size:2.6px;line-height:2.6px;color:#1e1e1e;font-weight:normal;font-family:'Liberation Mono', monospace;transform:scaleX(0.8686);transform-origin:0 0;white-space:pre;">Age years                              0.04249    0.01459   2.912  0.00359 ** </div>
<div class="t" style="left:97.40px;top:83.34px;font-size:2.6px;line-height:2.6px;color:#1e1e1e;font-weight:normal;font-family:'Liberation Mono', monospace;transform:scaleX(0.8686);transform-origin:0 0;white-space:pre;">Intraoperative RBC units               0.47689    0.03515  13.568  &lt; 2e-16 ***</div>
<div class="t" style="left:97.40px;top:86.87px;font-size:2.6px;line-height:2.6px;color:#1e1e1e;font-weight:normal;font-family:'Liberation Mono', monospace;transform:scaleX(0.8686);transform-origin:0 0;white-space:pre;">Surgical typesCombined CABG            0.46035    0.53388   0.862  0.38852    </div>
<div class="t" style="left:97.40px;top:90.40px;font-size:2.6px;line-height:2.6px;color:#1e1e1e;font-weight:normal;font-family:'Liberation Mono', monospace;transform:scaleX(0.8686);transform-origin:0 0;white-space:pre;">Surgical typesCombined aortic surgery  1.02770    0.33775   3.043  0.00234 ** </div>
<div class="t" style="left:97.40px;top:93.92px;font-size:2.6px;line-height:2.6px;color:#1e1e1e;font-weight:normal;font-family:'Liberation Mono', monospace;transform:scaleX(0.8686);transform-origin:0 0;white-space:pre;">---</div>
<div class="t" style="left:97.40px;top:97.45px;font-size:2.6px;line-height:2.6px;color:#1e1e1e;font-weight:normal;font-family:'Liberation Mono', monospace;transform:scaleX(0.8686);transform-origin:0 0;white-space:pre;">Signif. codes:  0 '***' 0.001 '**' 0.01 '*' 0.05 '.' 0.1 ' ' 1</div>
<div class="t" style="left:97.40px;top:104.51px;font-size:2.6px;line-height:2.6px;color:#1e1e1e;font-weight:normal;font-family:'Liberation Mono', monospace;transform:scaleX(0.8686);transform-origin:0 0;white-space:pre;">(Dispersion parameter for binomial family taken to be 1)</div>
<div class="t" style="left:97.40px;top:111.56px;font-size:2.6px;line-height:2.6px;color:#1e1e1e;font-weight:normal;font-family:'Liberation Mono', monospace;transform:scaleX(0.8686);transform-origin:0 0;white-space:pre;">    Null deviance: 503.94  on 3051  degrees of freedom</div>
<div class="t" style="left:97.40px;top:115.09px;font-size:2.6px;line-height:2.6px;color:#1e1e1e;font-weight:normal;font-family:'Liberation Mono', monospace;transform:scaleX(0.8686);transform-origin:0 0;white-space:pre;">Residual deviance: 430.08  on 3044  degrees of freedom</div>
<div class="t" style="left:97.40px;top:118.61px;font-size:2.6px;line-height:2.6px;color:#1e1e1e;font-weight:normal;font-family:'Liberation Mono', monospace;transform:scaleX(0.8686);transform-origin:0 0;white-space:pre;">AIC: 446.1</div>
<div class="t" style="left:97.40px;top:125.67px;font-size:2.6px;line-height:2.6px;color:#1e1e1e;font-weight:normal;font-family:'Liberation Mono', monospace;transform:scaleX(0.8686);transform-origin:0 0;white-space:pre;">Number of Fisher Scoring iterations: 8</div>
</div>
<div class="t" style="left:131.40px;top:2.80px;width:20px;text-align:center;font-size:8.5px;line-height:8.5px;font-weight:bold;font-family:'Liberation Serif', serif;color:#000">(A)</div><div class="t" style="left:406.80px;top:2.80px;width:20px;text-align:center;font-size:8.5px;line-height:8.5px;font-weight:bold;font-family:'Liberation Serif', serif;color:#000">(B)</div><div class="t" style="left:131.30px;top:146.30px;width:20px;text-align:center;font-size:8.5px;line-height:8.5px;font-weight:bold;font-family:'Liberation Serif', serif;color:#000">(C)</div><div class="t" style="left:406.80px;top:146.20px;width:20px;text-align:center;font-size:8.5px;line-height:8.5px;font-weight:bold;font-family:'Liberation Serif', serif;color:#000">(D)</div>
</div>
</body></html>
